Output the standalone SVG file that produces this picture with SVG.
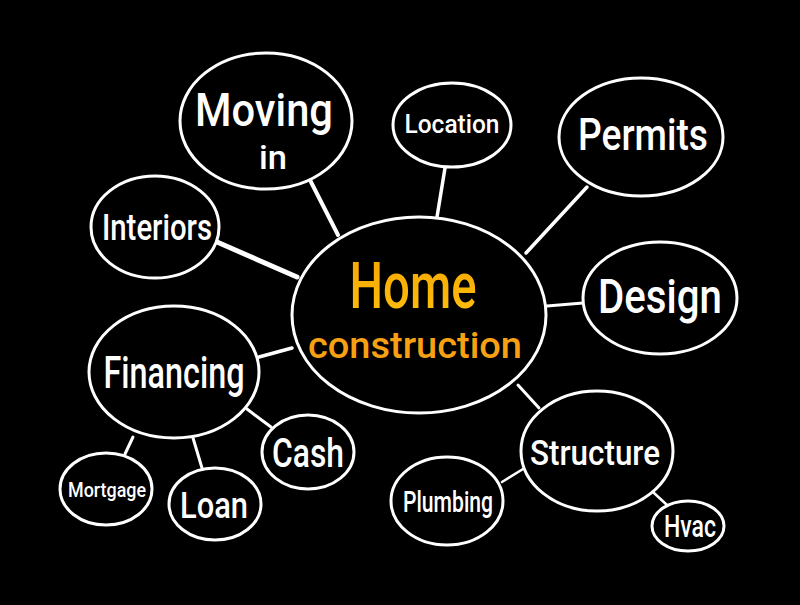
<svg xmlns="http://www.w3.org/2000/svg" width="800" height="605" viewBox="0 0 800 605">
<defs>
<style>
.n{fill:#000;stroke:#fff;stroke-width:3}
.c{stroke:#fff;stroke-linecap:round;fill:none}
.t{fill:#fff;font-family:Roboto,"Open Sans",sans-serif;font-weight:500;text-anchor:middle}
.o{font-family:Roboto,"Open Sans",sans-serif;font-weight:500;text-anchor:middle}
</style>
<linearGradient id="hg" x1="0" y1="0" x2="0" y2="1">
<stop offset="0" stop-color="#F6A300"/>
<stop offset="1" stop-color="#FFC20E"/>
</linearGradient>
</defs>
<rect width="800" height="605" fill="#000"/>
<g id="connectors">
<line class="c" x1="310" y1="180" x2="338" y2="235" stroke-width="4"/>
<line class="c" x1="217" y1="242" x2="297" y2="277" stroke-width="5"/>
<line class="c" x1="445" y1="168" x2="437" y2="217" stroke-width="3.5"/>
<line class="c" x1="587" y1="187" x2="526" y2="253" stroke-width="3.5"/>
<line class="c" x1="547" y1="306" x2="583" y2="303" stroke-width="3"/>
<line class="c" x1="259" y1="357" x2="292" y2="348" stroke-width="3.5"/>
<line class="c" x1="247" y1="409" x2="271" y2="427" stroke-width="3"/>
<line class="c" x1="133" y1="437" x2="125" y2="454" stroke-width="3"/>
<line class="c" x1="193" y1="438" x2="202" y2="468" stroke-width="3"/>
<line class="c" x1="518" y1="385" x2="539" y2="408" stroke-width="3"/>
<line class="c" x1="523" y1="469" x2="502" y2="482" stroke-width="2.5"/>
<line class="c" x1="654" y1="493" x2="667" y2="505" stroke-width="2.5"/>
</g>
<g id="center">
<ellipse class="n" cx="419" cy="315" rx="127" ry="98" stroke-width="4.5"/>
<text class="o" x="413" y="308" font-size="64" textLength="127" lengthAdjust="spacingAndGlyphs" fill="url(#hg)">Home</text>
<text class="o" x="415" y="358" font-size="36" textLength="214" lengthAdjust="spacingAndGlyphs" fill="#F7A014">construction</text>
</g>
<g id="moving-in">
<ellipse class="n" cx="266" cy="121" rx="86" ry="68"/>
<text class="t" x="264" y="126" font-size="46" textLength="138" lengthAdjust="spacingAndGlyphs">Moving</text>
<text class="t" x="273" y="169" font-size="34" textLength="28" lengthAdjust="spacingAndGlyphs">in</text>
</g>
<g id="interiors">
<ellipse class="n" cx="155" cy="227" rx="64" ry="51"/>
<text class="t" x="157" y="240" font-size="37" textLength="110" lengthAdjust="spacingAndGlyphs">Interiors</text>
</g>
<g id="location">
<ellipse class="n" cx="452" cy="125" rx="59" ry="42"/>
<text class="t" x="452" y="133" font-size="25" textLength="95" lengthAdjust="spacingAndGlyphs">Location</text>
</g>
<g id="permits">
<ellipse class="n" cx="641" cy="137" rx="82" ry="59"/>
<text class="t" x="643" y="150" font-size="45" textLength="130" lengthAdjust="spacingAndGlyphs">Permits</text>
</g>
<g id="design">
<ellipse class="n" cx="660" cy="298" rx="77" ry="56"/>
<text class="t" x="660" y="313" font-size="48" textLength="124" lengthAdjust="spacingAndGlyphs">Design</text>
</g>
<g id="financing">
<ellipse class="n" cx="174" cy="372" rx="85" ry="66"/>
<text class="t" x="174" y="388" font-size="45" textLength="141" lengthAdjust="spacingAndGlyphs">Financing</text>
</g>
<g id="mortgage">
<ellipse class="n" cx="106" cy="489" rx="46" ry="36" stroke-width="2.5"/>
<text class="t" x="107" y="497" font-size="20" textLength="78" lengthAdjust="spacingAndGlyphs">Mortgage</text>
</g>
<g id="loan">
<ellipse class="n" cx="215" cy="504" rx="46" ry="36" stroke-width="2.5"/>
<text class="t" x="214" y="518" font-size="36" textLength="68" lengthAdjust="spacingAndGlyphs">Loan</text>
</g>
<g id="cash">
<ellipse class="n" cx="308" cy="452" rx="46" ry="37" stroke-width="2.5"/>
<text class="t" x="308" y="467" font-size="41" textLength="72" lengthAdjust="spacingAndGlyphs">Cash</text>
</g>
<g id="structure">
<ellipse class="n" cx="597" cy="451" rx="76" ry="60"/>
<text class="t" x="595" y="465" font-size="35" textLength="130" lengthAdjust="spacingAndGlyphs">Structure</text>
</g>
<g id="plumbing">
<ellipse class="n" cx="447" cy="501" rx="56" ry="44" stroke-width="2.5"/>
<text class="t" x="448" y="512" font-size="30" textLength="90" lengthAdjust="spacingAndGlyphs">Plumbing</text>
</g>
<g id="hvac">
<ellipse class="n" cx="688" cy="526" rx="36" ry="25" stroke-width="2.5"/>
<text class="t" x="690" y="537" font-size="32" textLength="52" lengthAdjust="spacingAndGlyphs">Hvac</text>
</g>
</svg>
